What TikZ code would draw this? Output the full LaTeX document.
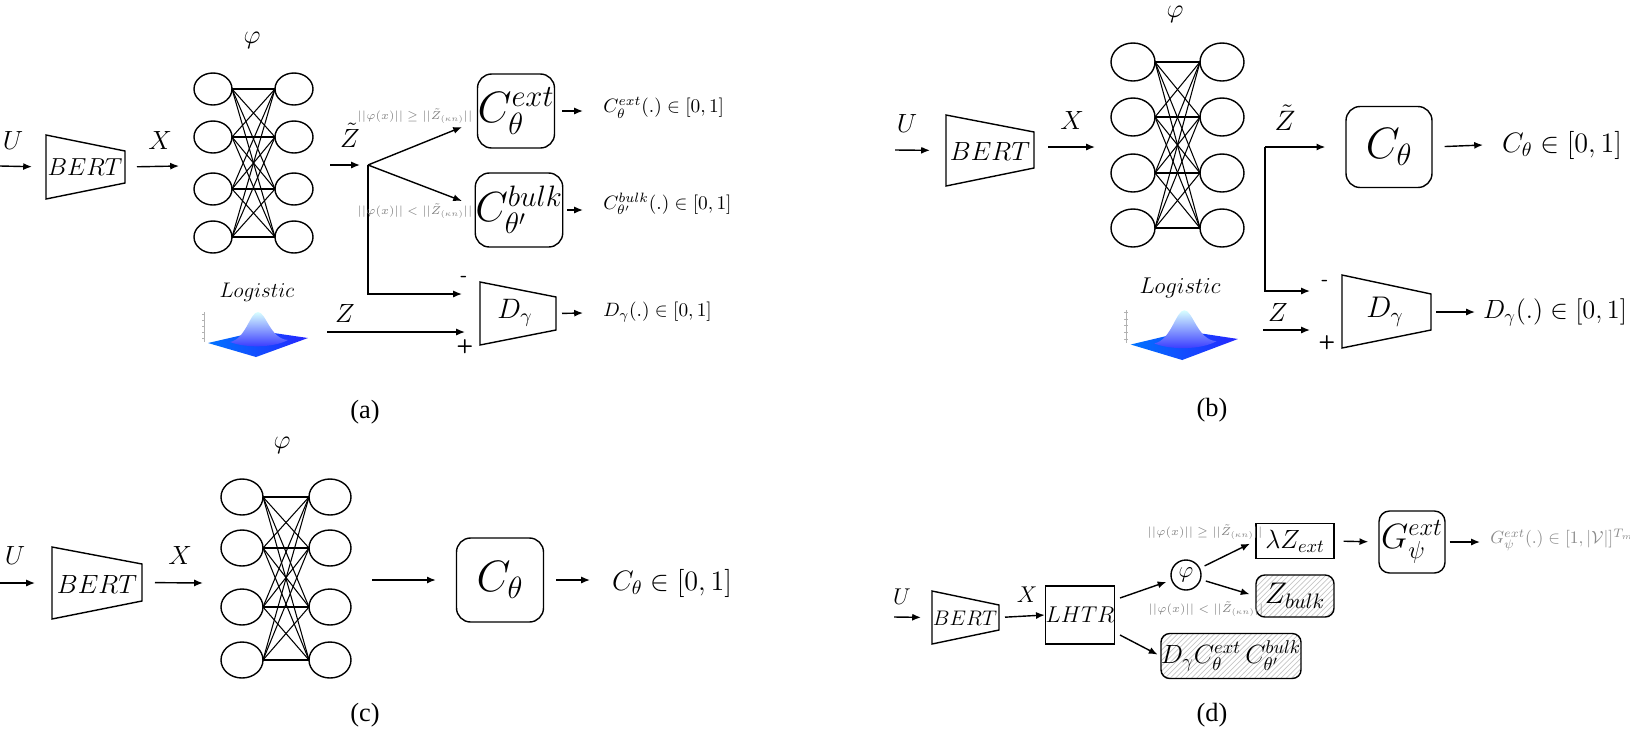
\RequirePackage{fix-cm}
\documentclass[tikz,border=0pt]{standalone}
\usepackage{amsmath,amssymb}
\usepackage{fontspec}
\newfontfamily\capfont{Liberation Serif}
\usetikzlibrary{arrows.meta,patterns}
\newcommand\fz[1]{\fontsize{#1}{#1}\selectfont}
% trapezoid: name, lx, ly1, ly2, rx, ry1, ry2
\newcommand\trapz[7]{%
  \draw[ln] (#2,#3) -- (#5,#6) -- (#5,#7) -- (#2,#4) -- cycle;
  \coordinate (#1-w) at (#2,{(#3+#4)/2});
  \coordinate (#1-e) at (#5,{(#6+#7)/2});
  \coordinate (#1-c) at ({(#2+#5)/2},{(#3+#4)/2});}
% network: lx, rx, rr, ry, rows
\newcommand\netw[5]{%
  \foreach \ya in {#5}{%
    \draw[ln] (#1,\ya) ellipse [x radius={#3*0.02cm}, y radius={#4*0.02cm}];
    \draw[ln] (#2,\ya) ellipse [x radius={#3*0.02cm}, y radius={#4*0.02cm}];
    \foreach \yb in {#5}{\draw[line width=0.6pt] ({#1+#3},\ya) -- ({#2-#3},\yb);}}}
% logistic plot: x, y, w, h
\newcommand\logi[4]{%
  \begin{scope}[shift={(#1,#2)}, xscale={#3/110}, yscale={#4/47}]
    \shade[left color=blue!55!cyan, right color=blue!85] (10,33) -- (62,21) -- (110,28) -- (58,47) -- cycle;
    \shade[top color=cyan!15, bottom color=blue!80] (32,32) .. controls (48,29) and (52,2) .. (60,2) .. controls (68,2) and (72,29) .. (90,30) .. controls (75,38) and (47,38) .. cycle;
    \draw[gray!60, line width=0.3pt] (6,2) -- (6,32);
    \foreach \t in {4,10,16,22,28}{\draw[gray!60, line width=0.3pt] (4,\t) -- (7,\t);}
  \end{scope}}
\begin{document}
\begin{tikzpicture}[x=0.02cm, y=-0.02cm,
  ln/.style={line width=0.8pt},
  arr/.style={-{Latex[length=5pt,width=4pt]}, line width=0.8pt},
  box/.style={draw, line width=0.8pt, rounded corners=8pt, inner sep=0pt},
  hatch/.style={pattern=north east lines, pattern color=gray!45},
  lbl/.style={inner sep=0pt},
  cond/.style={inner sep=0pt, text=gray, font=\fz{6.5}},
  capt/.style={inner sep=0pt, font=\capfont\fz{15}},
  pmk/.style={inner sep=0pt, font=\sffamily\bfseries\fz{11}}]
\useasboundingbox (0,0) rectangle (1630,731);

% ================= (a) =================
\coordinate (uA) at (0,166);
\trapz{bertA}{46}{135}{199}{125}{151}{183}
\node[lbl] (bertAt) at (85,167) {\fz{14}$BERT$};
\draw[arr, shorten >=0.28cm] (uA) -- (bertA-w);
\node[lbl] (UA) at (13,140) {\fz{15}$U$};
\coordinate (xA) at (179,166);
\draw[arr, shorten <=0.24cm] (bertA-e) -- (xA);
\node[lbl] (XA) at (160,140) {\fz{15}$X$};
\netw{213}{294}{19}{16}{89,137,189,237}
\node[lbl] (phiA) at (252,40) {\fz{15}$\varphi$};
\coordinate (zA0) at (330,165);
\coordinate (brA) at (368,165);
\draw[arr, shorten >=0.16cm] (zA0) -- (brA);
\node[lbl] (ZtA) at (350,135) {\fz{15}$\tilde{Z}$};
\node[box, minimum width=1.54cm, minimum height=1.48cm] (cext) at (516,111) {\fz{25}$C_\theta^{ext}$};
\node[box, minimum width=1.56cm, minimum height=1.48cm] (cbulk) at (519,210) {\fz{24}$C_{\theta'}^{bulk}$};
\coordinate (cextin) at (462,127);
\coordinate (cbulkin) at (462,201);
\coordinate (dAin1) at (462,294);
\draw[arr] (brA) -- (cextin);
\draw[arr] (brA) -- (cbulkin);
\draw[arr] (brA) |- (dAin1);
\node[cond] (condA1) at (415,116) {$||\varphi(x)||\geq||\tilde{Z}_{(\kappa n)}||$};
\node[cond] (condA2) at (415,211) {$||\varphi(x)||<||\tilde{Z}_{(\kappa n)}||$};
\coordinate (oA1) at (583,111);
\coordinate (oA2) at (583,210);
\draw[arr, shorten <=0.14cm] (cext.east) -- (oA1);
\draw[arr, shorten <=0.08cm] (cbulk.east) -- (oA2);
\node[lbl, anchor=west] (tA1) at (603,108) {\fz{11}$C_\theta^{ext}(.)\in[0,1]$};
\node[lbl, anchor=west] (tA2) at (603,204) {\fz{11}$C_{\theta'}^{bulk}(.)\in[0,1]$};
\trapz{dA}{480}{282}{345}{556}{297}{330}
\node[lbl] (dAt) at (515,313) {\fz{16}$D_\gamma$};
\coordinate (zA1) at (327,332);
\coordinate (dAin2) at (465,332);
\draw[arr] (zA1) -- (dAin2);
\node[lbl] (ZA) at (345,313) {\fz{15}$Z$};
\node[pmk] (mA) at (464,279) {-};
\node[pmk] (pA) at (465,347) {+};
\coordinate (oA3) at (583,313);
\draw[arr, shorten <=0.12cm] (dA-e) -- (oA3);
\node[lbl, anchor=west] (tA3) at (603,312) {\fz{11}$D_\gamma(.)\in[0,1]$};
\node[lbl] (logA) at (257,292) {\fz{12}$Logistic$};
\logi{198}{310}{110}{47}
\node[capt] (capA) at (365,412) {(a)};

% ================= (b) =================
\coordinate (uB) at (895,150);
\trapz{bertB}{946}{115}{186}{1034}{132}{168}
\node[lbl] (bertBt) at (990,151) {\fz{15}$BERT$};
\draw[arr, shorten >=0.32cm] (uB) -- (bertB-w);
\node[lbl] (UB) at (907,123) {\fz{15}$U$};
\coordinate (xB0) at (1048,147);
\coordinate (xB1) at (1095,147);
\draw[arr] (xB0) -- (xB1);
\node[lbl] (XB) at (1072,120) {\fz{15}$X$};
\netw{1133}{1222}{22}{19}{62,117,173,228}
\node[lbl] (phiB) at (1175,14) {\fz{15}$\varphi$};
\coordinate (brB) at (1265,147);
\node[box, minimum width=1.72cm, minimum height=1.62cm] (cB) at (1389,147) {\fz{25}$C_\theta$};
\draw[arr, shorten >=0.4cm] (brB) -- (cB.west);
\node[lbl] (ZtB) at (1285,118) {\fz{16}$\tilde{Z}$};
\coordinate (dBin1) at (1310,291);
\draw[arr] (brB) |- (dBin1);
\coordinate (oB1) at (1483,145);
\draw[arr, shorten <=0.24cm] (cB.east) -- (oB1);
\node[lbl] (tB1) at (1562,145) {\fz{16}$C_\theta\in[0,1]$};
\trapz{dB}{1342}{275}{348}{1431}{294}{330}
\node[lbl] (dBt) at (1385,312) {\fz{17}$D_\gamma$};
\coordinate (zB0) at (1263,330);
\coordinate (dBin2) at (1310,330);
\draw[arr] (zB0) -- (dBin2);
\node[lbl] (ZB) at (1278,312) {\fz{15}$Z$};
\node[pmk] (mB) at (1325,283) {-};
\node[pmk] (pB) at (1327,343) {+};
\coordinate (oB2) at (1475,312);
\draw[arr, shorten <=0.1cm] (dB-e) -- (oB2);
\node[lbl] (tB2) at (1555,312) {\fz{15}$D_\gamma(.)\in[0,1]$};
\node[lbl] (logB) at (1180,288) {\fz{13}$Logistic$};
\logi{1120}{308}{118}{52}
\node[capt] (capB) at (1212,410) {(b)};

% ================= (c) =================
\coordinate (uC) at (0,583);
\trapz{bertC}{52}{547}{619}{142}{564}{601}
\node[lbl] (bertCt) at (97,584) {\fz{15}$BERT$};
\draw[arr, shorten >=0.34cm] (uC) -- (bertC-w);
\node[lbl] (UC) at (15,555) {\fz{15}$U$};
\coordinate (xC1) at (203,583);
\draw[arr, shorten <=0.26cm] (bertC-e) -- (xC1);
\node[lbl] (XC) at (180,555) {\fz{15}$X$};
\netw{242}{330}{21}{18}{497,548,607,660}
\node[lbl] (phiC) at (282,445) {\fz{15}$\varphi$};
\node[box, minimum width=1.74cm, minimum height=1.68cm] (cC) at (500,580) {\fz{25}$C_\theta$};
\coordinate (cC0) at (372,580);
\draw[arr, shorten >=0.4cm] (cC0) -- (cC.west);
\coordinate (oC) at (590,580);
\draw[arr, shorten <=0.24cm] (cC.east) -- (oC);
\node[lbl] (tC) at (672,583) {\fz{16}$C_\theta\in[0,1]$};
\node[capt] (capC) at (365,715) {(c)};

% ================= (d) =================
\coordinate (uD) at (894,617);
\trapz{bertD}{932}{591}{644}{999}{605}{630}
\node[lbl] (bertDt) at (965,618) {\fz{12}$BERT$};
\draw[arr, shorten >=0.22cm] (uD) -- (bertD-w);
\node[lbl] (UD) at (902,597) {\fz{13}$U$};
\node[draw, ln, minimum width=1.3cm, minimum height=1.16cm, inner sep=0pt] (lhtr) at (1080,615) {\fz{13}$LHTR$};
\draw[arr, shorten <=0.12cm] (bertD-e) -- (lhtr.west);
\node[lbl] (XD) at (1027,595) {\fz{13}$X$};
\node[draw, ln, circle, minimum size=0.6cm, inner sep=0pt] (phiD) at (1186,575) {\fz{13}$\varphi$};
\node[draw, ln, minimum width=1.56cm, minimum height=0.7cm, inner sep=0pt] (lz) at (1295,541) {\fz{15}$\lambda Z_{ext}$};
\node[box, hatch, rounded corners=5pt, minimum width=1.56cm, minimum height=0.84cm] (zb) at (1295,596) {\fz{17}$Z_{bulk}$};
\node[box, hatch, rounded corners=5pt, minimum width=2.78cm, minimum height=0.9cm] (dD) at (1231,656) {\fz{15}$D_\gamma C_\theta^{ext}\,C_{\theta'}^{bulk}$};
\node[box, rounded corners=6pt, minimum width=1.32cm, minimum height=1.24cm] (gD) at (1412,542) {\fz{20}$G_\psi^{ext}$};
\coordinate (lh1) at (1120,598);
\coordinate (lh2) at (1120,635);
\draw[arr, shorten >=0.1cm] (lh1) -- (phiD);
\draw[arr, shorten <=0.1cm, shorten >=0.12cm] (phiD) -- (lz.west);
\draw[arr, shorten <=0.1cm, shorten >=0.12cm] (phiD) -- (zb.west);
\draw[arr, shorten >=0.06cm] (lh2) -- (dD.west);
\node[cond] (condD1) at (1205,532) {$||\varphi(x)||\geq||\tilde{Z}_{(\kappa n)}||$};
\node[cond] (condD2) at (1206,609) {$||\varphi(x)||<||\tilde{Z}_{(\kappa n)}||$};
\draw[arr, shorten <=0.18cm, shorten >=0.2cm] (lz.east) -- (gD.west);
\coordinate (oD) at (1480,542);
\draw[arr, shorten <=0.08cm] (gD.east) -- (oD);
\node[lbl, anchor=west, text=gray!90] (tD) at (1490,540) {\fz{10}$G_\psi^{ext}(.)\in[1,|\mathcal{V}|]^{T_{max}}$};
\node[capt] (capD) at (1212,715) {(d)};
\end{tikzpicture}
\end{document}
